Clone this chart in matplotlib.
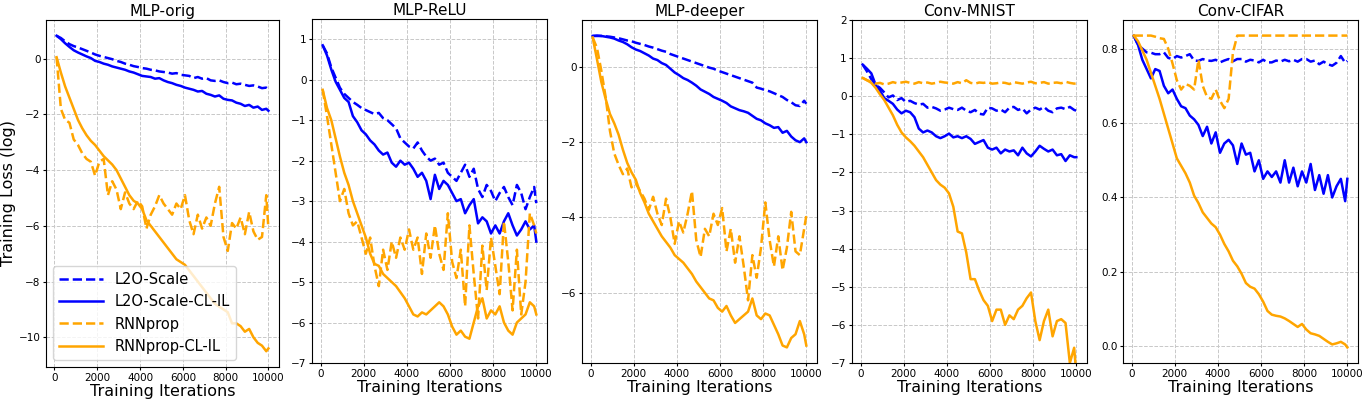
import matplotlib
matplotlib.use('Agg')
import matplotlib.pyplot as plt

# iterations (une mesure toutes les 200 iterations)
iters = list(range(100, 10000, 200)) + [10000]

titres = ['MLP-orig', 'MLP-ReLU', 'MLP-deeper', 'Conv-MNIST', 'Conv-CIFAR']
noms = ['L2O-Scale', 'L2O-Scale-CL-IL', 'RNNprop', 'RNNprop-CL-IL']

# MLP-orig
orig_l2o = [0.82, 0.74, 0.62, 0.52, 0.45, 0.40, 0.34, 0.28, 0.22, 0.15,
            0.10, 0.06, 0.02, -0.02, -0.08, -0.12, -0.18, -0.22, -0.27, -0.30,
            -0.34, -0.36, -0.40, -0.42, -0.46, -0.48, -0.50, -0.54, -0.52, -0.58,
            -0.60, -0.62, -0.70, -0.66, -0.72, -0.70, -0.78, -0.80, -0.78, -0.84,
            -0.88, -0.86, -0.92, -0.90, -0.94, -0.98, -0.96, -1.00, -1.06, -1.04, -1.10]
orig_l2o_cl = [0.82, 0.70, 0.55, 0.42, 0.30, 0.22, 0.15, 0.08, 0.02, -0.08,
               -0.12, -0.18, -0.22, -0.28, -0.32, -0.36, -0.40, -0.46, -0.50, -0.56,
               -0.62, -0.64, -0.66, -0.72, -0.70, -0.78, -0.84, -0.88, -0.94, -0.98,
               -1.04, -1.08, -1.12, -1.18, -1.16, -1.26, -1.30, -1.36, -1.32, -1.44,
               -1.48, -1.50, -1.58, -1.62, -1.70, -1.66, -1.76, -1.72, -1.84, -1.80, -1.87]
orig_rnn = [0.05, -1.8, -2.2, -2.3, -2.9, -3.1, -3.4, -3.6, -3.7, -4.2,
            -3.7, -3.6, -4.9, -4.4, -4.7, -5.4, -4.8, -5.2, -5.4, -5.1,
            -5.3, -6.1, -5.6, -5.3, -4.9, -5.2, -5.4, -5.6, -5.2, -5.4,
            -4.9, -5.8, -6.3, -5.6, -6.1, -5.7, -6.0, -5.2, -4.6, -6.4,
            -6.9, -5.9, -6.1, -5.7, -6.3, -5.5, -6.2, -6.5, -6.4, -4.9, -6.1]
orig_rnn_cl = [0.05, -0.5, -1.0, -1.4, -1.8, -2.2, -2.5, -2.75, -2.95, -3.1,
               -3.3, -3.5, -3.65, -3.8, -4.0, -4.3, -4.6, -4.9, -5.1, -5.2,
               -5.4, -5.8, -6.0, -6.2, -6.4, -6.6, -6.8, -7.0, -7.2, -7.3,
               -7.4, -7.6, -7.8, -8.0, -8.2, -8.4, -8.6, -8.8, -8.9, -9.0,
               -9.1, -9.5, -9.5, -9.6, -9.8, -9.7, -10.0, -10.2, -10.3, -10.5, -10.4]

# MLP-ReLU
relu_l2o = [0.85, 0.65, 0.30, 0.05, -0.20, -0.35, -0.45, -0.55, -0.62, -0.70,
            -0.75, -0.80, -0.85, -0.82, -0.95, -1.0, -1.1, -1.2, -1.45, -1.55,
            -1.65, -1.7, -1.55, -1.75, -1.9, -2.0, -1.95, -2.1, -2.05, -2.3,
            -2.4, -2.5, -2.3, -2.1, -2.4, -2.2, -2.7, -2.9, -2.6, -2.75,
            -3.0, -2.8, -2.65, -2.9, -3.1, -2.6, -2.8, -3.2, -2.9, -2.65, -3.05]
relu_l2o_cl = [0.85, 0.6, 0.25, -0.05, -0.25, -0.45, -0.55, -0.9, -1.05, -1.25,
               -1.35, -1.5, -1.6, -1.75, -1.85, -1.8, -2.05, -2.15, -2.0, -2.1,
               -2.05, -2.2, -2.4, -2.3, -2.5, -2.95, -2.35, -2.7, -2.5, -2.6,
               -2.8, -3.0, -2.95, -3.3, -3.1, -2.95, -3.55, -3.4, -3.5, -3.8,
               -3.6, -3.8, -3.5, -3.3, -3.6, -3.85, -3.7, -3.5, -3.7, -3.6, -4.0]
relu_rnn = [-0.25, -0.9, -1.6, -2.3, -3.0, -2.7, -3.3, -3.6, -3.5, -3.9,
            -4.3, -3.9, -4.6, -5.1, -4.2, -4.7, -4.0, -4.4, -3.9, -4.2,
            -3.7, -4.2, -3.9, -4.8, -3.8, -4.4, -3.6, -4.3, -4.7, -3.3,
            -4.5, -4.9, -4.2, -5.6, -3.6, -4.8, -5.9, -4.1, -5.2, -3.9,
            -4.6, -5.3, -3.5, -4.5, -5.7, -4.2, -5.8, -5.0, -3.3, -3.6, -3.8]
relu_rnn_cl = [-0.25, -0.7, -1.0, -1.45, -1.9, -2.3, -2.6, -3.0, -3.3, -3.6,
               -3.9, -4.3, -4.55, -4.6, -4.8, -4.9, -5.0, -5.1, -5.25, -5.4,
               -5.6, -5.8, -5.85, -5.75, -5.8, -5.7, -5.6, -5.5, -5.6, -5.8,
               -6.1, -6.3, -6.2, -6.35, -6.4, -6.0, -5.6, -5.4, -5.9, -5.7,
               -5.8, -5.6, -6.0, -6.2, -6.3, -6.0, -5.9, -5.8, -5.5, -5.6, -5.8]

# MLP-deeper
deep_l2o = [0.82, 0.83, 0.82, 0.81, 0.80, 0.78, 0.76, 0.73, 0.70, 0.68,
            0.64, 0.61, 0.58, 0.54, 0.51, 0.47, 0.43, 0.40, 0.34, 0.30,
            0.26, 0.22, 0.18, 0.14, 0.10, 0.06, 0.02, -0.02, -0.05, -0.10,
            -0.14, -0.18, -0.22, -0.26, -0.30, -0.34, -0.38, -0.42, -0.55, -0.58,
            -0.62, -0.65, -0.70, -0.75, -0.80, -0.88, -0.94, -1.02, -1.04, -0.90, -0.98]
deep_l2o_cl = [0.82, 0.82, 0.82, 0.80, 0.78, 0.75, 0.70, 0.66, 0.60, 0.52,
               0.46, 0.42, 0.36, 0.30, 0.22, 0.18, 0.10, 0.05, -0.05, -0.15,
               -0.22, -0.30, -0.35, -0.42, -0.50, -0.60, -0.66, -0.72, -0.80, -0.85,
               -0.90, -0.96, -1.05, -1.10, -1.15, -1.18, -1.22, -1.30, -1.38, -1.42,
               -1.50, -1.55, -1.62, -1.60, -1.75, -1.70, -1.85, -1.95, -2.0, -1.90, -2.0]
deep_rnn = [0.78, 0.5, -0.1, -0.8, -1.7, -2.3, -2.6, -2.85, -2.7, -3.2,
            -3.1, -3.3, -3.5, -3.8, -3.45, -3.9, -4.2, -3.5, -4.0, -4.7,
            -4.1, -4.4, -3.9, -3.3, -4.6, -5.05, -4.3, -4.5, -3.9, -4.2,
            -3.75, -4.9, -4.3, -5.2, -4.5, -5.3, -6.2, -5.0, -5.6, -4.8,
            -3.6, -4.6, -5.3, -4.5, -5.4, -4.8, -3.85, -4.9, -5.0, -4.3, -3.95]
deep_rnn_cl = [0.78, 0.2, -0.4, -0.85, -1.25, -1.5, -1.8, -2.2, -2.55, -2.8,
               -3.0, -3.35, -3.6, -3.9, -4.1, -4.3, -4.5, -4.65, -4.8, -5.0,
               -5.1, -5.2, -5.35, -5.5, -5.7, -5.85, -6.0, -6.15, -6.2, -6.4,
               -6.5, -6.35, -6.6, -6.8, -6.7, -6.6, -6.5, -6.15, -6.6, -6.7,
               -6.55, -6.6, -6.85, -7.1, -7.4, -7.45, -7.2, -7.1, -6.75, -7.1, -7.4]

# Conv-MNIST
mnist_l2o = [0.83, 0.65, 0.45, 0.30, 0.22, 0.10, -0.03, 0.02, -0.10, -0.05,
             -0.15, -0.12, -0.18, -0.22, -0.20, -0.30, -0.28, -0.32, -0.38, -0.35,
             -0.30, -0.34, -0.36, -0.30, -0.38, -0.42, -0.36, -0.46, -0.48, -0.30,
             -0.32, -0.38, -0.35, -0.42, -0.30, -0.28, -0.36, -0.32, -0.45, -0.35,
             -0.30, -0.35, -0.28, -0.38, -0.42, -0.32, -0.30, -0.34, -0.28, -0.36, -0.38]
mnist_l2o_cl = [0.83, 0.72, 0.60, 0.30, 0.15, -0.05, -0.12, -0.20, -0.35, -0.45,
                -0.38, -0.42, -0.55, -0.85, -0.95, -0.90, -0.95, -1.05, -1.10, -1.05,
                -0.98, -1.08, -1.05, -1.10, -1.05, -1.12, -1.25, -1.20, -1.15, -1.35,
                -1.40, -1.35, -1.50, -1.40, -1.45, -1.42, -1.55, -1.35, -1.50, -1.58,
                -1.45, -1.30, -1.38, -1.45, -1.40, -1.55, -1.52, -1.70, -1.55, -1.60, -1.60]
mnist_rnn = [0.48, 0.42, 0.38, 0.33, 0.35, 0.31, 0.33, 0.37, 0.34, 0.36,
             0.38, 0.35, 0.33, 0.37, 0.34, 0.36, 0.33, 0.35, 0.38, 0.36,
             0.35, 0.33, 0.37, 0.34, 0.42, 0.35, 0.33, 0.36, 0.35, 0.37,
             0.33, 0.34, 0.36, 0.35, 0.32, 0.37, 0.35, 0.33, 0.36, 0.38,
             0.34, 0.35, 0.37, 0.33, 0.35, 0.36, 0.34, 0.38, 0.35, 0.33, 0.34]
mnist_rnn_cl = [0.48, 0.42, 0.35, 0.22, 0.05, -0.10, -0.30, -0.50, -0.75, -0.95,
                -1.08, -1.18, -1.30, -1.45, -1.60, -1.80, -2.00, -2.20, -2.32, -2.40,
                -2.55, -2.90, -3.55, -3.60, -4.10, -4.80, -4.80, -5.10, -5.35, -5.50,
                -5.90, -5.60, -5.60, -6.00, -5.75, -5.85, -5.60, -5.50, -5.30, -5.15,
                -5.90, -6.40, -5.90, -5.60, -6.30, -5.90, -5.85, -5.95, -7.00, -6.60, -7.30]

# Conv-CIFAR
cifar_l2o = [0.835, 0.81, 0.80, 0.79, 0.789, 0.785, 0.785, 0.79, 0.775, 0.772,
             0.78, 0.776, 0.78, 0.785, 0.768, 0.767, 0.772, 0.768, 0.767, 0.770,
             0.763, 0.768, 0.772, 0.766, 0.772, 0.772, 0.765, 0.770, 0.768, 0.763,
             0.770, 0.763, 0.763, 0.768, 0.765, 0.770, 0.766, 0.770, 0.765, 0.772,
             0.772, 0.765, 0.768, 0.758, 0.765, 0.758, 0.754, 0.762, 0.780, 0.762, 0.767]
cifar_l2o_cl = [0.835, 0.81, 0.77, 0.745, 0.72, 0.745, 0.74, 0.70, 0.68, 0.69,
                0.665, 0.645, 0.64, 0.62, 0.61, 0.595, 0.565, 0.59, 0.545, 0.575,
                0.52, 0.545, 0.555, 0.54, 0.49, 0.545, 0.515, 0.52, 0.47, 0.50,
                0.45, 0.47, 0.455, 0.47, 0.44, 0.50, 0.44, 0.48, 0.43, 0.47,
                0.44, 0.49, 0.42, 0.46, 0.41, 0.46, 0.40, 0.43, 0.45, 0.39, 0.45]
cifar_rnn = [0.835, 0.835, 0.835, 0.835, 0.835, 0.832, 0.828, 0.826, 0.80, 0.76,
             0.715, 0.69, 0.705, 0.70, 0.69, 0.77, 0.70, 0.67, 0.665, 0.69,
             0.66, 0.64, 0.665, 0.79, 0.835, 0.835, 0.835, 0.835, 0.835, 0.835,
             0.835, 0.835, 0.835, 0.835, 0.835, 0.835, 0.835, 0.835, 0.835, 0.835,
             0.835, 0.835, 0.835, 0.835, 0.835, 0.835, 0.835, 0.835, 0.835, 0.835, 0.835]
cifar_rnn_cl = [0.835, 0.82, 0.795, 0.77, 0.735, 0.70, 0.665, 0.625, 0.585, 0.545,
                0.505, 0.485, 0.465, 0.44, 0.405, 0.385, 0.36, 0.345, 0.33, 0.32,
                0.30, 0.275, 0.255, 0.23, 0.215, 0.195, 0.17, 0.16, 0.155, 0.14,
                0.12, 0.095, 0.085, 0.082, 0.08, 0.075, 0.068, 0.06, 0.052, 0.06,
                0.045, 0.035, 0.032, 0.028, 0.02, 0.012, 0.005, 0.008, 0.012, 0.005, -0.003]

donnees = [
    [orig_l2o, orig_l2o_cl, orig_rnn, orig_rnn_cl],
    [relu_l2o, relu_l2o_cl, relu_rnn, relu_rnn_cl],
    [deep_l2o, deep_l2o_cl, deep_rnn, deep_rnn_cl],
    [mnist_l2o, mnist_l2o_cl, mnist_rnn, mnist_rnn_cl],
    [cifar_l2o, cifar_l2o_cl, cifar_rnn, cifar_rnn_cl],
]
couleurs = ['blue', 'blue', 'orange', 'orange']
styles = ['--', '-', '--', '-']
ylims = [None, (-7, 1.5), None, (-7, 2), None]

W, H = 1367, 401
fig = plt.figure(figsize=(W / 100, H / 100), dpi=100)
# boites des axes en pixels : gauche, droite, haut, bas
boites = [(46, 279, 20, 367), (312, 547, 19, 363), (582, 817, 20, 363),
          (852, 1087, 20, 363), (1123, 1358, 20, 363)]

for k in range(5):
    g, d, h, b = boites[k]
    ax = fig.add_axes([g / W, 1 - b / H, (d - g) / W, (b - h) / H])
    for j in range(4):
        ax.plot(iters, donnees[k][j], styles[j], color=couleurs[j], lw=1.8, label=noms[j])
    ax.set_title(titres[k], fontsize=11, pad=3)
    ax.set_xlabel('Training Iterations', fontsize=11.5, labelpad=1)
    ax.set_xticks([0, 2000, 4000, 6000, 8000, 10000])
    ax.tick_params(labelsize=7.5, length=2.5, pad=1.5)
    ax.grid(True, linestyle='--', color='#c8c8c8', linewidth=0.7)
    if ylims[k] is not None:
        ax.set_ylim(*ylims[k])
    if k == 0:
        ax.set_ylabel('Training Loss (log)', fontsize=11.5, labelpad=2)
        ax.legend(loc='lower left', fontsize=10.5, handlelength=3.0)

fig.savefig('out.png', dpi=100)
